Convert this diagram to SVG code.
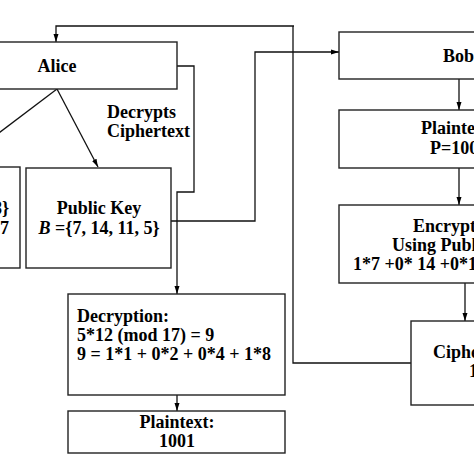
<svg xmlns="http://www.w3.org/2000/svg" width="474" height="474" viewBox="0 0 474 474">
<defs>
<marker id="ah" markerUnits="userSpaceOnUse" markerWidth="8" markerHeight="8" viewBox="0 0 8 8" refX="8" refY="4" orient="auto">
<path d="M0,1.5 L8,4 L0,6.5 Z" fill="#000"/>
</marker>
<style>
.box{fill:#fff;stroke:#222;stroke-width:1.4}
.t{font-family:"Liberation Serif","Times New Roman",serif;font-weight:bold;font-size:18px;fill:#000}
.c{fill:none;stroke:#111;stroke-width:1.3}
</style>
</defs>
<rect width="474" height="474" fill="#fff"/>
<g id="connectors">
<path class="c" d="M411,363 H293 V26" stroke-width="2.4"/>
<path class="c" d="M294,26 H56 V42" stroke-width="1.8" marker-end="url(#ah)"/>
<path class="c" d="M177,66 H194 V192 H177 V294" marker-end="url(#ah)"/>
<path class="c" d="M171,221 H255 V52 H339" marker-end="url(#ah)"/>
<path class="c" d="M57,89 L98,167" marker-end="url(#ah)"/>
<path class="c" d="M57,89 L-46,167"/>
<path class="c" d="M459,79 V110" marker-end="url(#ah)"/>
<path class="c" d="M459,168 V205" marker-end="url(#ah)"/>
<path class="c" d="M465,283 V321" marker-end="url(#ah)"/>
<path class="c" d="M177,395 V411" marker-end="url(#ah)"/>
</g>
<text class="t" x="107" y="118">Decrypts</text>
<text class="t" x="107" y="137">Ciphertext</text>
<g id="alice">
<rect class="box" x="-100" y="42" width="277" height="47"/>
<text class="t" x="57" y="72" text-anchor="middle">Alice</text>
</g>
<g id="privatekey">
<rect class="box" x="-200" y="167" width="220" height="101"/>
<text class="t" x="9" y="214" text-anchor="end">A ={1, 2, 4, 8}</text>
<text class="t" x="9" y="234" text-anchor="end">w = 12, <tspan font-style="italic">m</tspan> = 17</text>
</g>
<g id="publickey">
<rect class="box" x="26" y="168" width="145" height="100"/>
<text class="t" x="99" y="214" text-anchor="middle">Public Key</text>
<text class="t" x="99" y="234" text-anchor="middle"><tspan font-style="italic">B</tspan> ={7, 14, 11, 5}</text>
</g>
<g id="decryption">
<rect class="box" x="68" y="294" width="217" height="101"/>
<text class="t" x="77" y="322">Decryption:</text>
<text class="t" x="77" y="341">5*12 (mod 17) = 9</text>
<text class="t" x="77" y="360">9 = 1*1 + 0*2 + 0*4 + 1*8</text>
</g>
<g id="plaintext-alice">
<rect class="box" x="68" y="411" width="217" height="42"/>
<text class="t" x="177" y="428" text-anchor="middle">Plaintext:</text>
<text class="t" x="177" y="447" text-anchor="middle">1001</text>
</g>
<g id="bob">
<rect class="box" x="339" y="32" width="240" height="47"/>
<text class="t" x="443" y="62">Bob</text>
</g>
<g id="plaintext-bob">
<rect class="box" x="339" y="110" width="240" height="58"/>
<text class="t" x="421" y="134">Plaintext:</text>
<text class="t" x="430" y="154">P=1001</text>
</g>
<g id="encryption">
<rect class="box" x="339" y="205" width="240" height="78"/>
<text class="t" x="413" y="232">Encryption:</text>
<text class="t" x="392" y="251">Using Public Key</text>
<text class="t" x="353" y="270">1*7 +0* 14 +0*11 +1*5 = 12</text>
</g>
<g id="ciphertext">
<rect class="box" x="411" y="321" width="170" height="84"/>
<text class="t" x="433" y="358">Ciphertext:</text>
<text class="t" x="469" y="377">12</text>
</g>
</svg>
